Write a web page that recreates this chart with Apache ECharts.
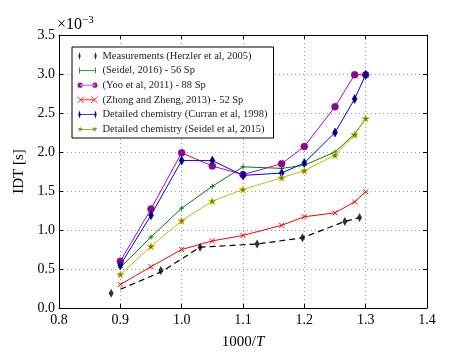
<!DOCTYPE html>
<html><head><meta charset="utf-8">
<script src="https://cdn.jsdelivr.net/npm/echarts@6/dist/echarts.min.js"></script>
<style>html,body{margin:0;padding:0;background:#fff}#c{width:474px;height:355px}</style>
</head><body><div id="c"></div>
<script>
// 1000/T values of model series
const xModel = [0.9, 0.95, 1.0, 1.05, 1.1, 1.163, 1.2, 1.25, 1.282, 1.3];
// Measurements (markers) and dashed guide line
const measX = [0.885, 0.966, 1.030, 1.123, 1.197, 1.266, 1.290];
const measY = [0.19, 0.48, 0.78, 0.82, 0.90, 1.11, 1.16];
const fitX = [0.9, 0.966, 1.030, 1.123, 1.197, 1.266, 1.290];
const fitY = [0.24, 0.46, 0.78, 0.82, 0.90, 1.11, 1.16];
// IDT values (x 1e-3 s)
const seidel2016 = [0.52, 0.91, 1.28, 1.56, 1.81, 1.79, 1.83, 2.00, 2.23, 2.43];
const yoo2011 = [0.60, 1.27, 1.99, 1.82, 1.71, 1.85, 2.07, 2.58, 2.99, 2.99];
const zhong2013 = [0.30, 0.53, 0.75, 0.86, 0.93, 1.06, 1.17, 1.22, 1.36, 1.49];
const curran1998 = [0.55, 1.19, 1.89, 1.89, 1.70, 1.73, 1.86, 2.25, 2.68, 2.99];
const seidel2015 = [0.43, 0.79, 1.12, 1.37, 1.52, 1.67, 1.76, 1.96, 2.22, 2.43];
const names = [
  'Measurements (Herzler et al, 2005)',
  '(Seidel, 2016) - 56 Sp',
  '(Yoo et al, 2011) - 88 Sp',
  '(Zhong and Zheng, 2013) - 52 Sp',
  'Detailed chemistry (Curran et al, 1998)',
  'Detailed chemistry (Seidel et al, 2015)'
];

const FONT = 'Liberation Serif';
const zip = (xs, ys) => xs.map((x, i) => [x, ys[i]]);
const STAR = 'path://M50,0L61,35L98,35L68,57L79,91L50,70L21,91L32,57L2,35L39,35Z';
const XMARK = 'path://M0,0L10,10M10,0L0,10';
const PLUS = 'path://M5,0L5,10M0,5L10,5';
const DIAM = 'path://M5,0L9,10L5,20L1,10Z';

// legend icons, drawn in a 200 x 80 box (matplotlib style: marker at both ends)
const LINE = 'M20,36L180,36L180,44L20,44Z';
const IC_MEAS = 'path://M20,0L32,40L20,80L8,40ZM180,0L192,40L180,80L168,40ZM0,40L0,40M200,40L200,40';
const IC_PLUS = 'path://' + LINE + 'M16,10L24,10L24,70L16,70ZM176,10L184,10L184,70L176,70ZM0,0L0,0M200,80L200,80';
const IC_CIRC = 'path://' + LINE + 'M-8,40A28,28 0 1,0 48,40A28,28 0 1,0 -8,40ZM152,40A28,28 0 1,0 208,40A28,28 0 1,0 152,40Z';
const IC_X = 'path://M35,40L165,40M5,10L65,70M65,10L5,70M135,10L195,70M195,10L135,70';
const IC_DIAM = 'path://' + LINE + 'M20,0L32,40L20,80L8,40ZM180,0L192,40L180,80L168,40Z';
const IC_STAR = 'path://' + LINE + 'M20,8L27,30L50,30L31,44L38,66L20,52L2,66L9,44L-10,30L13,30ZM180,8L187,30L210,30L191,44L198,66L180,52L162,66L169,44L150,30L173,30Z';

const chart = echarts.init(document.getElementById('c'), null, {renderer: 'canvas'});
chart.setOption({
  animation: false,
  backgroundColor: '#fff',
  grid: {left: 59, right: 47, top: 35, bottom: 36},
  xAxis: [{
    type: 'value', min: 0.8, max: 1.4, interval: 0.1, position: 'bottom',
    axisLine: {onZero: false, lineStyle: {color: '#000', width: 1}},
    axisTick: {inside: true, length: 4, lineStyle: {color: '#000'}},
    axisLabel: {color: '#000', fontFamily: FONT, fontSize: 14, margin: 5, formatter: v => v.toFixed(1)},
    splitLine: {show: true, lineStyle: {color: '#999', type: [1, 3], width: 1}},
    name: '1000/{i|T}', nameLocation: 'middle', nameGap: 27,
    nameTextStyle: {color: '#000', fontFamily: FONT, fontSize: 15, rich: {i: {fontStyle: 'italic', fontFamily: FONT, fontSize: 15}}}
  }, {
    type: 'value', min: 0.8, max: 1.4, interval: 0.1, position: 'top',
    axisLine: {onZero: false, lineStyle: {color: '#000', width: 1}},
    axisTick: {inside: true, length: 4, lineStyle: {color: '#000'}},
    axisLabel: {show: false}, splitLine: {show: false}
  }],
  yAxis: [{
    type: 'value', min: 0, max: 3.5, interval: 0.5, position: 'left',
    axisLine: {show: true, onZero: false, lineStyle: {color: '#000', width: 1}},
    axisTick: {show: true, inside: true, length: 4, lineStyle: {color: '#000'}},
    axisLabel: {color: '#000', fontFamily: FONT, fontSize: 14, margin: 4, formatter: v => v.toFixed(1)},
    splitLine: {show: true, lineStyle: {color: '#999', type: [1, 3], width: 1}},
    name: 'IDT [s]', nameLocation: 'middle', nameGap: 25,
    nameTextStyle: {color: '#000', fontFamily: FONT, fontSize: 15}
  }, {
    type: 'value', min: 0, max: 3.5, interval: 0.5, position: 'right',
    axisLine: {show: true, onZero: false, lineStyle: {color: '#000', width: 1}},
    axisTick: {show: true, inside: true, length: 4, lineStyle: {color: '#000'}},
    axisLabel: {show: false}, splitLine: {show: false}
  }],
  graphic: [{
    type: 'text', left: 57, top: 15,
    style: {
      text: '×10{s|−3}', fill: '#000', fontFamily: FONT, fontSize: 16,
      rich: {s: {fontSize: 11, fontFamily: FONT, padding: [0, 0, 9, 0]}}
    }
  }],
  legend: {
    orient: 'vertical', left: 72, top: 47,
    padding: [2, 6, 2, 5], itemGap: 0.6, itemWidth: 20, itemHeight: 8,
    borderColor: '#000', borderWidth: 1, backgroundColor: '#fff',
    textStyle: {color: '#222', fontFamily: FONT, fontSize: 10.5, lineHeight: 14},
    data: [
      {name: names[0], icon: IC_MEAS, itemStyle: {color: '#000', borderWidth: 0}},
      {name: names[1], icon: IC_PLUS, itemStyle: {color: '#008000', borderWidth: 0}},
      {name: names[2], icon: IC_CIRC, itemStyle: {color: '#a010a0', borderWidth: 0}},
      {name: names[3], icon: IC_X, itemStyle: {color: 'rgba(0,0,0,0)', borderColor: '#ff2020', borderWidth: 1}},
      {name: names[4], icon: IC_DIAM, itemStyle: {color: '#0000b0', borderWidth: 0}},
      {name: names[5], icon: IC_STAR, itemStyle: {color: '#8f8f10', borderWidth: 0}}
    ]
  },
  series: [
    {name: 'fit', type: 'line', data: zip(fitX, fitY), symbol: 'none',
     lineStyle: {color: '#000', width: 1.2, type: [6, 4]}, z: 2},
    {name: names[0], type: 'scatter', data: zip(measX, measY), symbol: DIAM, symbolSize: [5, 9],
     itemStyle: {color: '#000'}, z: 3},
    {name: names[1], type: 'line', data: zip(xModel, seidel2016), symbol: PLUS, symbolSize: 5,
     showAllSymbol: true,
     lineStyle: {color: '#008000', width: 1}, itemStyle: {color: '#008000', borderColor: '#008000', borderWidth: 1}},
    {name: names[2], type: 'line', data: zip(xModel, yoo2011), symbol: 'circle', symbolSize: 7,
     lineStyle: {color: '#bf00bf', width: 1}, itemStyle: {color: '#8b0a8b', borderColor: '#8b0a8b', borderWidth: 0.5}},
    {name: names[3], type: 'line', data: zip(xModel, zhong2013), symbol: XMARK, symbolSize: 5,
     lineStyle: {color: '#ff0000', width: 1}, itemStyle: {color: '#ff0000', borderColor: '#ff0000', borderWidth: 1}},
    {name: names[4], type: 'line', data: zip(xModel, curran1998), symbol: DIAM, symbolSize: [5, 9],
     lineStyle: {color: '#0000ff', width: 1}, itemStyle: {color: '#00008b', borderColor: '#00008b', borderWidth: 0.5}},
    {name: names[5], type: 'line', data: zip(xModel, seidel2015), symbol: STAR, symbolSize: 7,
     lineStyle: {color: '#bfbf00', width: 1}, itemStyle: {color: '#6b6b10', borderColor: '#bfbf00', borderWidth: 0.8}}
  ]
});
</script></body></html>
